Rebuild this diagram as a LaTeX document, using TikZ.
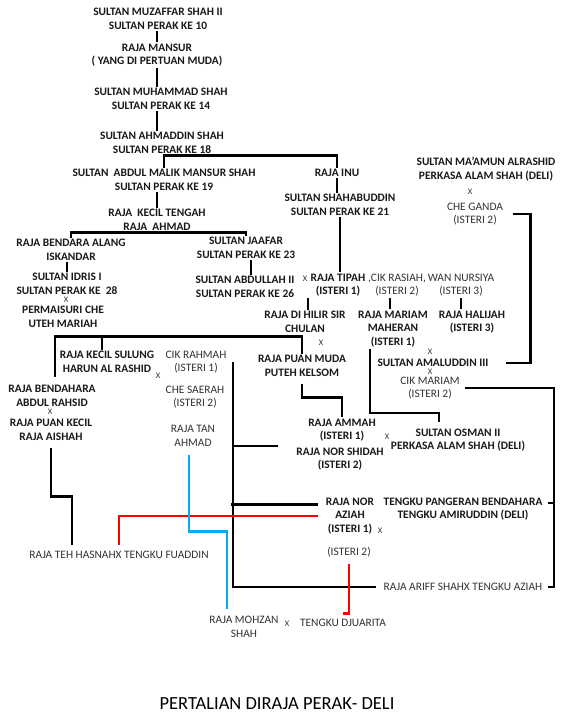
\documentclass[tikz,border=0pt]{standalone}
\usepackage{fontspec}
\setmainfont{Carlito}
\usetikzlibrary{calc}
\definecolor{birulaut}{RGB}{0,176,240}

\begin{document}
\begin{tikzpicture}[x=1pt,y=-1pt,
  nm/.style={font=\fontsize{11.4}{13.5}\selectfont\bfseries,text=black!90,align=center,inner sep=1.5pt},
  pn/.style={font=\fontsize{11.4}{13.5}\selectfont,text=black!80,align=center,inner sep=1.5pt},
  kali/.style={font=\fontsize{8.5}{9}\selectfont,text=black!80,inner sep=0pt},
  kin/.style={line width=2.8pt},
  merah/.style={kin,draw=red},
  biru/.style={kin,draw=birulaut}]
\useasboundingbox[fill=white] (0,0) rectangle (565,720);
\node[nm] (mzf) at (158,19) {SULTAN MUZAFFAR SHAH II\\SULTAN PERAK KE 10};
\node[nm] (mansur) at (157,55) {RAJA MANSUR\\( YANG DI PERTUAN MUDA)};
\node[nm] (muhd) at (161,99) {SULTAN MUHAMMAD SHAH\\SULTAN PERAK KE 14};
\node[nm] (ahmaddin) at (162,143) {SULTAN AHMADDIN SHAH\\SULTAN PERAK KE 18};
\node[nm] (malik) at (164,180) {SULTAN\ \ ABDUL MALIK MANSUR SHAH\\SULTAN PERAK KE 19};
\node[nm] (inu) at (337,173) {RAJA INU};
\node[nm] (shahab) at (340,205) {SULTAN SHAHABUDDIN\\SULTAN PERAK KE 21};
\node[nm] (tengah) at (157,220) {RAJA\ \ KECIL TENGAH\\RAJA\ \ AHMAD};
\node[nm] (alang) at (71,250) {RAJA BENDARA ALANG\\ISKANDAR};
\node[nm] (jaafar) at (246,248) {SULTAN JAAFAR\\SULTAN PERAK KE 23};
\node[nm] (idris) at (67,284) {SULTAN IDRIS I\\SULTAN PERAK KE\ \ 28};
\node[kali] (x1) at (66,300) {X};
\node[nm] (permaisuri) at (63,317) {PERMAISURI CHE\\UTEH MARIAH};
\node[nm] (abdullah) at (245,287) {SULTAN ABDULLAH II\\SULTAN PERAK KE 26};
\node[kali] (x2) at (305,279) {X};
\node[nm] (tipah) at (338,285) {RAJA TIPAH\\(ISTERI 1)};
\node[pn] (rasiah) at (397,285) {,CIK RASIAH,\\(ISTERI 2)};
\node[pn] (nursiya) at (461,285) {WAN NURSIYA\\(ISTERI 3)};
\node[nm] (hilir) at (305,322) {RAJA DI HILIR SIR\\CHULAN};
\node[nm] (maheran) at (393,329) {RAJA MARIAM\\MAHERAN\\(ISTERI 1)};
\node[nm] (halijah) at (472,322) {RAJA HALIJAH\\(ISTERI 3)};
\node[kali] (x3) at (321,343) {X};
\node[nm] (puteh) at (302,366) {RAJA PUAN MUDA\\PUTEH KELSOM};
\node[kali] (x4) at (430,352) {X};
\node[nm] (amaluddin) at (433,363) {SULTAN AMALUDDIN III};
\node[kali] (x5) at (430,372) {X};
\node[pn] (cikmariam) at (430,388) {CIK MARIAM\\(ISTERI 2)};
\node[nm] (maamun) at (486,169) {SULTAN MA’AMUN ALRASHID\\PERKASA ALAM SHAH (DELI)};
\node[kali] (x6) at (470,192) {X};
\node[pn] (ganda) at (475,214) {CHE GANDA\\(ISTERI 2)};
\node[nm] (sulung) at (107,362) {RAJA KECIL SULUNG\\HARUN AL RASHID};
\node[kali] (x7) at (158,376) {X};
\node[pn] (rahmah) at (196,362) {CIK RAHMAH\\(ISTERI 1)};
\node[pn] (saerah) at (195,397) {CHE SAERAH\\(ISTERI 2)};
\node[pn] (tanahmad) at (193,436) {RAJA TAN\\AHMAD};
\node[nm] (bendahara) at (52,396) {RAJA BENDAHARA\\ABDUL RAHSID};
\node[kali] (x8) at (50,412) {X};
\node[nm] (aishah) at (51,430) {RAJA PUAN KECIL\\RAJA AISHAH};
\node[nm] (ammah) at (342,430) {RAJA AMMAH\\(ISTERI 1)};
\node[kali] (x9) at (387,437) {X};
\node[nm] (osman) at (458,440) {SULTAN OSMAN II\\PERKASA ALAM SHAH (DELI)};
\node[nm] (shidah) at (340,459) {RAJA NOR SHIDAH\\(ISTERI 2)};
\node[nm] (noraziah) at (350,516) {RAJA NOR\\AZIAH\\(ISTERI 1)};
\node[kali] (x10) at (380,531) {X};
\node[pn] (isteri2) at (349,552) {(ISTERI 2)};
\node[nm] (pangeran) at (463,509) {TENGKU PANGERAN BENDAHARA\\TENGKU AMIRUDDIN (DELI)};
\node[pn] (ariff) at (463,587) {RAJA ARIFF SHAHX TENGKU AZIAH};
\node[pn] (hasnah) at (119,555) {RAJA TEH HASNAHX TENGKU FUADDIN};
\node[pn] (mohzan) at (244,627) {RAJA MOHZAN\\SHAH};
\node[kali] (x11) at (287,624) {X};
\node[pn] (djuarita) at (343,623) {TENGKU DJUARITA};
\node[font=\fontsize{18.5}{20}\selectfont] (judul) at (277,704) {PERTALIAN DIRAJA PERAK- DELI};
\draw[kin] (mansur.north) -- (mansur.north |- mzf.south);
\draw[kin] (mansur.south) -- (mansur.south |- muhd.north);
\draw[kin] (mansur.south |- muhd.south) -- (mansur.south |- ahmaddin.north);
\draw[kin] (malik.north) |- (inu.north |- ahmaddin.south) -- (inu.north);
\draw[kin] (inu.south) -- (inu.south |- shahab.north);
\draw[kin] (tengah.north) -- (tengah.north |- malik.south);
\draw[kin] (alang.north) |- (jaafar.north |- tengah.south) -- (jaafar.north);
\draw[kin] (idris.north) -- (idris.north |- alang.south);
\draw[kin] ([xshift=6]abdullah.north) -- ([xshift=6]abdullah.north |- jaafar.south);
\draw[kin] (shahab.south) -- (shahab.south |- tipah.north);
\draw[kin] ([xshift=3]hilir.north) -- ++(0,-12);
\draw[kin] ([xshift=-7]rasiah.south) -- ([xshift=-7]rasiah.south |- maheran.north);
\draw[kin] (nursiya.south) -- (nursiya.south |- halijah.north);
\coordinate (hc) at ($(puteh.north)+(0,-17)$);
\draw[kin] (puteh.north) -- (hc) -| ($(bendahara.north)+(3,-7)$);
\draw[kin] ([xshift=-5]sulung.north) -- ([xshift=-5]sulung.north |- hc);
\draw[kin] (puteh.south) ++(0,6) -- ++(0,13) -| (ammah.north);
\draw[kin] ([xshift=-23]maheran.south) |- ($(osman.north)+(-19,-14)$) -- ++(0,9);
\draw[kin] ([xshift=8]ganda.east) -- ++(18,0) |- ([xshift=16]amaluddin.east);
\draw[kin] ([xshift=4]cikmariam.east) -| ([xshift=10]ariff.east) -- ([xshift=4]ariff.east);
\draw[kin] ([shift={(4,-6)}]pangeran.east) -- ++(6,0);
\coordinate (rv) at ([xshift=5]rahmah.east);
\draw[kin] (rv) |- ([xshift=-6]ariff.west);
\draw[kin] (rv |- shidah.north) -- ([xshift=-17]shidah.north west);
\draw[kin] ([xshift=-6,yshift=-8]noraziah.north west) -- ++(-87,0);
\draw[kin] (aishah.south) ++(0,6) -- ++(0,48) -| ([xshift=-47,yshift=5]hasnah.north);
\draw[merah] (hasnah.north) ++(0,-5) |- ([xshift=-6]noraziah.west);
\draw[biru] ([xshift=-4]tanahmad.south) ++(0,7) |- ([shift={(-17,-83)}]mohzan.north) -- ++(0,77);
\draw[merah] (isteri2.south) ++(0,5) |- ([yshift=4]djuarita.north);
\end{tikzpicture}
\end{document}
